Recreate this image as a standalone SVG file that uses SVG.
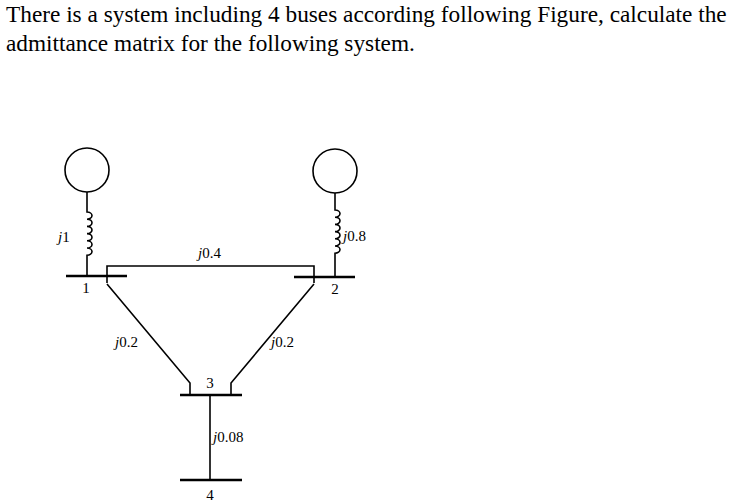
<svg xmlns="http://www.w3.org/2000/svg" width="736" height="503" viewBox="0 0 736 503">
<style>
.w{stroke:#000;stroke-width:1.6;fill:none}
.b{stroke:#000;stroke-width:2.4}
.t{font-family:"Liberation Serif",serif;font-size:23.3px;fill:#000}
.l{font-family:"Liberation Serif",serif;font-size:15px;fill:#000}
</style>
<rect width="736" height="503" fill="#fff"/>
<text class="t" x="6" y="22">There is a system including 4 buses according following Figure, calculate the</text>
<text class="t" x="6" y="51">admittance matrix for the following system.</text>
<g id="gen1"><circle class="w" cx="87" cy="170" r="22"/></g>
<g id="gen2"><circle class="w" cx="335" cy="171" r="22"/></g>
<g id="bus1"><line class="b" x1="66" y1="276" x2="127" y2="276"/><text class="l" x="86" y="293" text-anchor="middle">1</text></g>
<g id="bus2"><line class="b" x1="294" y1="277" x2="355" y2="277"/><text class="l" x="335" y="294" text-anchor="middle">2</text></g>
<g id="bus3"><line class="b" x1="180" y1="395" x2="242" y2="395"/><text class="l" x="210" y="388" text-anchor="middle">3</text></g>
<g id="bus4"><line class="b" x1="180" y1="480" x2="242" y2="480"/><text class="l" x="210" y="500" text-anchor="middle">4</text></g>
<g id="connectors">
<path class="w" d="M87 192V212 a5 3.6 0 0 1 0 7.2 a5 3.6 0 0 1 0 7.2 a5 3.6 0 0 1 0 7.2 a5 3.6 0 0 1 0 7.2 a5 3.6 0 0 1 0 7.2 a5 3.6 0 0 1 0 7.2 V276"/>
<path class="w" d="M335 193V210 a5 3.6 0 0 1 0 7.2 a5 3.6 0 0 1 0 7.2 a5 3.6 0 0 1 0 7.2 a5 3.6 0 0 1 0 7.2 a5 3.6 0 0 1 0 7.2 a5 3.6 0 0 1 0 7.2 V277"/>
<path class="w" d="M107 283V266H314V283"/>
<path class="w" d="M107 284L190 383V395"/>
<path class="w" d="M314 284L231 383V395"/>
<path class="w" d="M210 395V480"/>
<text class="l" x="58" y="242"><tspan font-style="italic">j</tspan>1</text>
<text class="l" x="343" y="241"><tspan font-style="italic">j</tspan>0.8</text>
<text class="l" x="198" y="258"><tspan font-style="italic">j</tspan>0.4</text>
<text class="l" x="115" y="347"><tspan font-style="italic">j</tspan>0.2</text>
<text class="l" x="271" y="347"><tspan font-style="italic">j</tspan>0.2</text>
<text class="l" x="213" y="442"><tspan font-style="italic">j</tspan>0.08</text>
</g>
</svg>
